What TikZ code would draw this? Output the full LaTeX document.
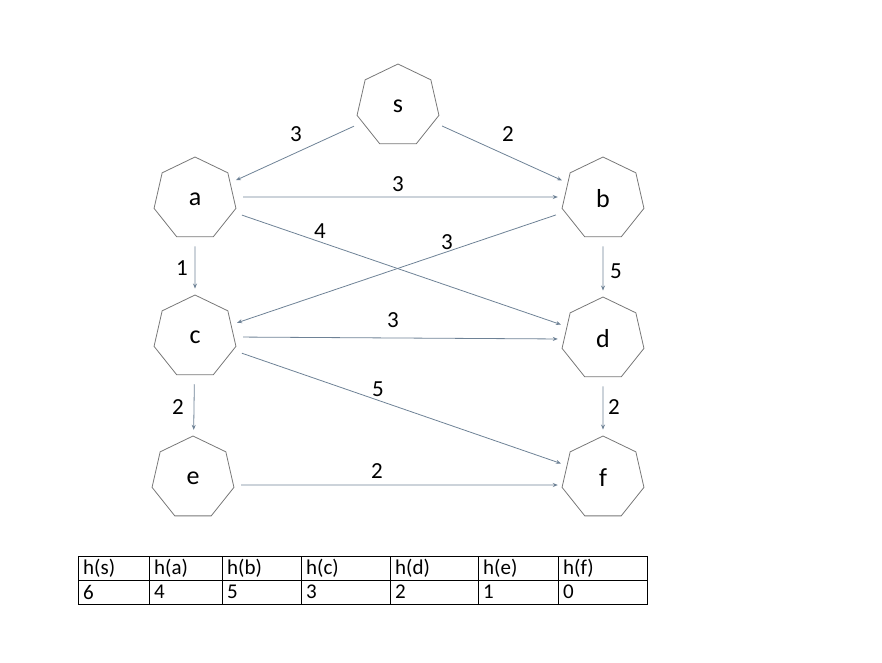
\documentclass[tikz,border=0pt]{standalone}
\usepackage{fontspec}
\setmainfont{Carlito}
\usetikzlibrary{shapes.geometric,arrows.meta}
\definecolor{edge}{RGB}{110,130,150}
\definecolor{outl}{RGB}{120,120,120}
\begin{document}
\begin{tikzpicture}[x=1pt,y=-1pt,
  hep/.style={draw=outl,thick,regular polygon,regular polygon sides=7,minimum size=84pt,inner sep=0pt,font=\fontsize{26}{30}\selectfont},
  arr/.style={draw=edge,-{Stealth[length=5pt,width=4pt]},line width=0.8pt,shorten <=9pt,shorten >=6pt},
  lab/.style={font=\fontsize{23}{26}\selectfont,inner sep=0pt},
  cell/.style={font=\fontsize{21}{24}\selectfont,anchor=west,inner sep=0pt}]
\useasboundingbox (0,0) rectangle (882,662);
\node[hep] (s) at (398,106) {s};
\node[hep] (a) at (195,199) {a};
\node[hep] (b) at (603,199) {b};
\node[hep] (c) at (195,337) {c};
\node[hep] (d) at (603,339) {d};
\node[hep] (e) at (193,478) {e};
\node[hep] (f) at (603,478) {f};
\draw[arr] (s) -- (a);
\draw[arr] (s) -- (b);
\draw[arr] ([yshift=2pt]a.east) -- ([yshift=2pt]b.west);
\draw[arr] (a) -- (d);
\draw[arr] (b) -- (c);
\draw[arr] (a) -- (c);
\draw[arr] (b) -- (d);
\draw[arr] (c.east) -- (d.west);
\draw[arr] (c) -- (f);
\draw[arr] (c) -- (e);
\draw[arr] (d) -- (f);
\draw[arr] ([yshift=-7pt]e.east) -- ([yshift=-7pt]f.west);
\node[lab] (l1) at (296,134) {3};
\node[lab] (l2) at (508,134) {2};
\node[lab] (l3) at (398,184) {3};
\node[lab] (l4) at (320,231) {4};
\node[lab] (l5) at (447,242) {3};
\node[lab] (l6) at (182,268) {1};
\node[lab] (l7) at (616,271) {5};
\node[lab] (l8) at (393,320) {3};
\node[lab] (l9) at (378,389) {5};
\node[lab] (l10) at (178,407) {2};
\node[lab] (l11) at (614,407) {2};
\node[lab] (l12) at (377,471) {2};
\draw[thick] (78,556) rectangle (647,604);
\draw[thick] (78,580) -- (647,580);
\foreach \x in {149,222,301,390,478,558} \draw[thick] (\x,556) -- (\x,604);
\foreach \x/\t/\v [count=\i] in {78/h(s)/6,149/h(a)/4,222/h(b)/5,301/h(c)/3,390/h(d)/2,478/h(e)/1,558/h(f)/0}{
  \node[cell] (h\i) at (\x+5,568) {\t};
  \node[cell] (v\i) at (\x+5,592) {\v};
}
\end{tikzpicture}
\end{document}
